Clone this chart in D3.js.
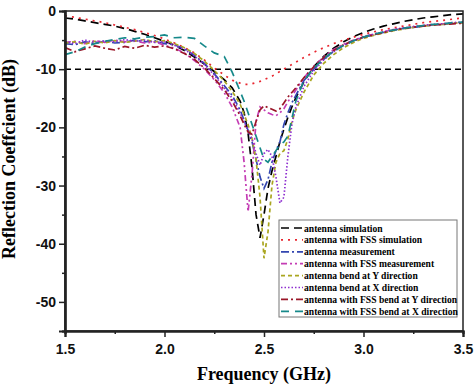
<!DOCTYPE html>
<html>
<head>
<meta charset="utf-8">
<script src="https://cdn.jsdelivr.net/npm/d3@7"></script>
<style>
  body { margin: 0; background: #fff; }
  svg { display: block; }
</style>
</head>
<body>
<svg id="chart"></svg>
<script>
const width = 474;
const height = 387;
const margin = {left: 65, right: 11, top: 11, bottom: 56};

// frequency grid (GHz) shared by all curves
const freq = [1.50,1.55,1.60,1.65,1.70,1.75,1.80,1.85,1.90,1.95,2.00,2.05,2.10,2.15,2.20,2.25,2.30,
  2.34,2.38,2.40,2.42,2.44,2.46,2.48,2.50,2.52,2.54,2.56,2.58,2.60,2.62,2.64,2.66,
  2.70,2.75,2.80,2.85,2.90,2.95,3.00,3.05,3.10,3.15,3.20,3.25,3.30,3.35,3.40,3.45,3.50];

const antennaSim = [-1.2,-1.4,-1.7,-2.0,-2.3,-2.6,-3.0,-3.5,-4.0,-4.6,-5.2,-5.9,-6.8,-7.9,-9.1,-10.4,-11.8,
  -13.2,-15.5,-17.5,-21,-27,-35,-39,-35,-30.5,-27.5,-25,-22.5,-20.3,-18.3,-16.5,-14.9,
  -12.2,-9.6,-7.8,-6.4,-5.3,-4.4,-3.7,-3.1,-2.6,-2.2,-1.8,-1.5,-1.2,-1.0,-0.8,-0.6,-0.5];

const fssSim = [-0.8,-1.1,-1.4,-1.7,-2.0,-2.4,-2.8,-3.2,-3.7,-4.2,-4.8,-5.5,-6.3,-7.2,-8.4,-9.8,-11.0,
  -11.9,-12.4,-12.6,-12.6,-12.5,-12.3,-12.1,-11.8,-11.5,-11.2,-10.8,-10.4,-10.0,-9.6,-9.2,-8.8,
  -8.0,-7.1,-6.3,-5.6,-5.0,-4.5,-4.0,-3.6,-3.2,-2.9,-2.6,-2.3,-2.0,-1.8,-1.6,-1.4,-1.2];

const antennaMeas = [-5.6,-5.8,-5.3,-5.6,-5.2,-5.5,-5.4,-5.0,-5.3,-5.1,-5.6,-5.8,-6.5,-7.6,-9.0,-10.8,-12.8,
  -14.5,-17.0,-18.8,-20.5,-22.5,-25.5,-28.5,-30.5,-29.0,-26.0,-24.0,-22.5,-19.5,-17.5,-15.8,-14.5,
  -12.0,-10.0,-8.3,-6.9,-5.9,-5.1,-4.5,-4.1,-3.7,-3.3,-3.0,-2.8,-2.6,-2.4,-2.3,-2.1,-2.0];

const fssMeas = [-5.4,-5.2,-5.6,-5.1,-5.4,-5.0,-5.3,-5.1,-5.5,-5.3,-5.9,-6.4,-7.2,-8.5,-10.0,-11.8,-14.0,
  -16.5,-20.0,-26.0,-34.5,-28.0,-19.0,-16.5,-17.0,-17.5,-17.8,-18.0,-17.5,-16.8,-15.6,-14.6,-13.6,
  -11.5,-9.5,-7.9,-6.6,-5.7,-5.0,-4.4,-4.0,-3.6,-3.2,-3.0,-2.7,-2.5,-2.4,-2.2,-2.1,-2.0];

const bendY = [-5.5,-5.3,-5.7,-5.2,-5.5,-5.1,-5.4,-5.2,-4.9,-5.3,-5.1,-5.6,-6.3,-7.3,-8.6,-10.2,-12.0,
  -13.8,-16.0,-17.8,-19.5,-22.0,-25.5,-32.0,-42.5,-38.0,-30.0,-26.0,-24.5,-24.0,-22.0,-19.0,-17.0,
  -14.0,-11.0,-9.0,-7.5,-6.3,-5.4,-4.7,-4.2,-3.8,-3.4,-3.1,-2.8,-2.6,-2.4,-2.3,-2.1,-2.0];

const bendX = [-5.3,-5.6,-5.0,-5.4,-5.1,-5.3,-4.9,-5.2,-5.0,-5.4,-5.3,-5.9,-6.6,-7.7,-9.2,-11.0,-13.2,
  -15.0,-17.5,-19.0,-20.5,-22.0,-24.5,-26.5,-24.5,-23.8,-25.0,-28.5,-33.0,-32.0,-25.0,-19.5,-16.5,
  -13.0,-10.3,-8.4,-7.0,-5.9,-5.1,-4.5,-4.0,-3.6,-3.2,-2.9,-2.7,-2.5,-2.3,-2.2,-2.0,-1.9];

const fssBendY = [-6.3,-7.0,-6.5,-6.0,-6.4,-6.7,-6.1,-6.4,-5.9,-6.2,-6.0,-6.5,-7.3,-8.3,-9.8,-11.6,-13.5,
  -15.5,-18.0,-19.5,-20.8,-21.2,-19.0,-17.0,-16.3,-16.6,-16.9,-17.2,-16.8,-15.8,-14.8,-14.0,-13.2,
  -11.5,-9.6,-8.0,-6.8,-5.8,-5.1,-4.5,-4.1,-3.7,-3.3,-3.0,-2.8,-2.6,-2.4,-2.3,-2.2,-2.1];

const fssBendX = [-7.5,-7.0,-6.2,-5.6,-5.2,-4.9,-4.6,-4.8,-4.5,-4.4,-4.1,-4.6,-4.5,-4.7,-6.0,-7.2,-7.8,
  -10.5,-13.8,-15.5,-17.5,-19.5,-21.5,-23.5,-25.5,-26.0,-25.0,-24.0,-23.0,-22.5,-21.5,-18.5,-15.5,
  -12.0,-9.8,-8.2,-6.9,-5.9,-5.1,-4.5,-4.0,-3.6,-3.3,-3.0,-2.7,-2.5,-2.3,-2.2,-2.0,-1.9];

const seriesNames = ['antenna simulation', 'antenna with FSS simulation', 'antenna measurement',
  'antenna with FSS measurement', 'antenna bend at Y direction', 'antenna bend at X direction',
  'antenna with FSS bend at Y direction', 'antenna with FSS bend at X direction'];
const seriesValues = [antennaSim, fssSim, antennaMeas, fssMeas, bendY, bendX, fssBendY, fssBendX];
const colors = ['#000000', '#e8262f', '#3346b0', '#c43cb4', '#aaa620', '#8e2fd0', '#9a1628', '#16898a'];
const dashes = ['8,5', '2,5', '8,3,2,3', '6,3,2,3,2,3', '4,3', '1.5,2', '7,3,2,3', '8,6'];

const xTicks = [1.5, 2.0, 2.5, 3.0, 3.5];
const xMinor = [1.75, 2.25, 2.75, 3.25];
const yTicks = [0, -10, -20, -30, -40, -50];
const yMinor = [-5, -15, -25, -35, -45, -55];
const refLevel = -10;

const svg = d3.select('#chart')
  .attr('width', width)
  .attr('height', height);

const x = d3.scaleLinear().domain([1.5, 3.5]).range([margin.left, width - margin.right]);
const y = d3.scaleLinear().domain([-55, 0]).range([height - margin.bottom, margin.top]);

svg.append('clipPath').attr('id', 'clip')
  .append('rect')
  .attr('x', margin.left).attr('y', margin.top)
  .attr('width', width - margin.left - margin.right)
  .attr('height', height - margin.top - margin.bottom);

// -10 dB reference line
svg.append('line')
  .attr('x1', x(1.5)).attr('x2', x(3.5))
  .attr('y1', y(refLevel)).attr('y2', y(refLevel))
  .attr('stroke', '#000')
  .attr('stroke-width', 1.5)
  .attr('stroke-dasharray', '6,4');

const line = d3.line()
  .x((d, i) => x(freq[i]))
  .y(d => y(d));

const curves = svg.append('g').attr('clip-path', 'url(#clip)');
seriesValues.forEach((vals, i) => {
  curves.append('path')
    .datum(vals)
    .attr('fill', 'none')
    .attr('stroke', colors[i])
    .attr('stroke-width', 1.7)
    .attr('stroke-dasharray', dashes[i])
    .attr('d', line);
});

// frame
svg.append('rect')
  .attr('x', margin.left).attr('y', margin.top)
  .attr('width', width - margin.left - margin.right)
  .attr('height', height - margin.top - margin.bottom)
  .attr('fill', 'none')
  .attr('stroke', '#222')
  .attr('stroke-width', 1.5);

const tickFont = '"Liberation Sans", Arial, sans-serif';

const xAxis = svg.append('g')
  .attr('transform', `translate(0, ${height - margin.bottom})`)
  .call(d3.axisBottom(x).tickValues(xTicks).tickFormat(d3.format('.1f')).tickSize(6).tickPadding(7));
svg.append('g')
  .attr('transform', `translate(0, ${height - margin.bottom})`)
  .call(d3.axisBottom(x).tickValues(xMinor).tickFormat('').tickSize(3));

const yAxis = svg.append('g')
  .attr('transform', `translate(${margin.left}, 0)`)
  .call(d3.axisLeft(y).tickValues(yTicks).tickFormat(d3.format('d')).tickSize(6).tickPadding(3));
svg.append('g')
  .attr('transform', `translate(${margin.left}, 0)`)
  .call(d3.axisLeft(y).tickValues(yMinor).tickFormat('').tickSize(3));

svg.selectAll('.domain').attr('stroke', '#222').attr('stroke-width', 2.2);
svg.selectAll('.tick line').attr('stroke', '#222').attr('stroke-width', 1.5);
svg.selectAll('.tick text')
  .attr('font-family', tickFont)
  .attr('font-weight', 'bold')
  .attr('font-size', 14)
  .attr('fill', '#111');
yAxis.selectAll('.tick text').text(d => d === 0 ? '0' : d3.format('d')(d).replace('−', '-'));

// axis titles
svg.append('text')
  .attr('x', (margin.left + width - margin.right) / 2)
  .attr('y', 380)
  .attr('text-anchor', 'middle')
  .attr('font-family', '"Liberation Serif", "Times New Roman", serif')
  .attr('font-weight', 'bold')
  .attr('font-size', 18)
  .text('Frequency (GHz)');

svg.append('text')
  .attr('transform', 'translate(15, 159) rotate(-90)')
  .attr('text-anchor', 'middle')
  .attr('font-family', '"Liberation Serif", "Times New Roman", serif')
  .attr('font-weight', 'bold')
  .attr('font-size', 18)
  .text('Reflection Coeffcient (dB)');

// legend
const legend = svg.append('g').attr('transform', 'translate(279, 220)');
legend.append('rect')
  .attr('width', 178).attr('height', 97)
  .attr('fill', '#fff')
  .attr('stroke', '#777')
  .attr('stroke-width', 1);

seriesNames.forEach((name, i) => {
  const row = legend.append('g').attr('transform', `translate(0, ${8 + i * 11.9})`);
  row.append('line')
    .attr('x1', 2).attr('x2', 24)
    .attr('stroke', colors[i])
    .attr('stroke-width', 1.7)
    .attr('stroke-dasharray', dashes[i]);
  row.append('text')
    .attr('x', 25)
    .attr('y', 3.5)
    .attr('font-family', '"Liberation Serif", "Times New Roman", serif')
    .attr('font-weight', 'bold')
    .attr('font-size', 9.6)
    .text(name);
});
</script>
</body>
</html>
